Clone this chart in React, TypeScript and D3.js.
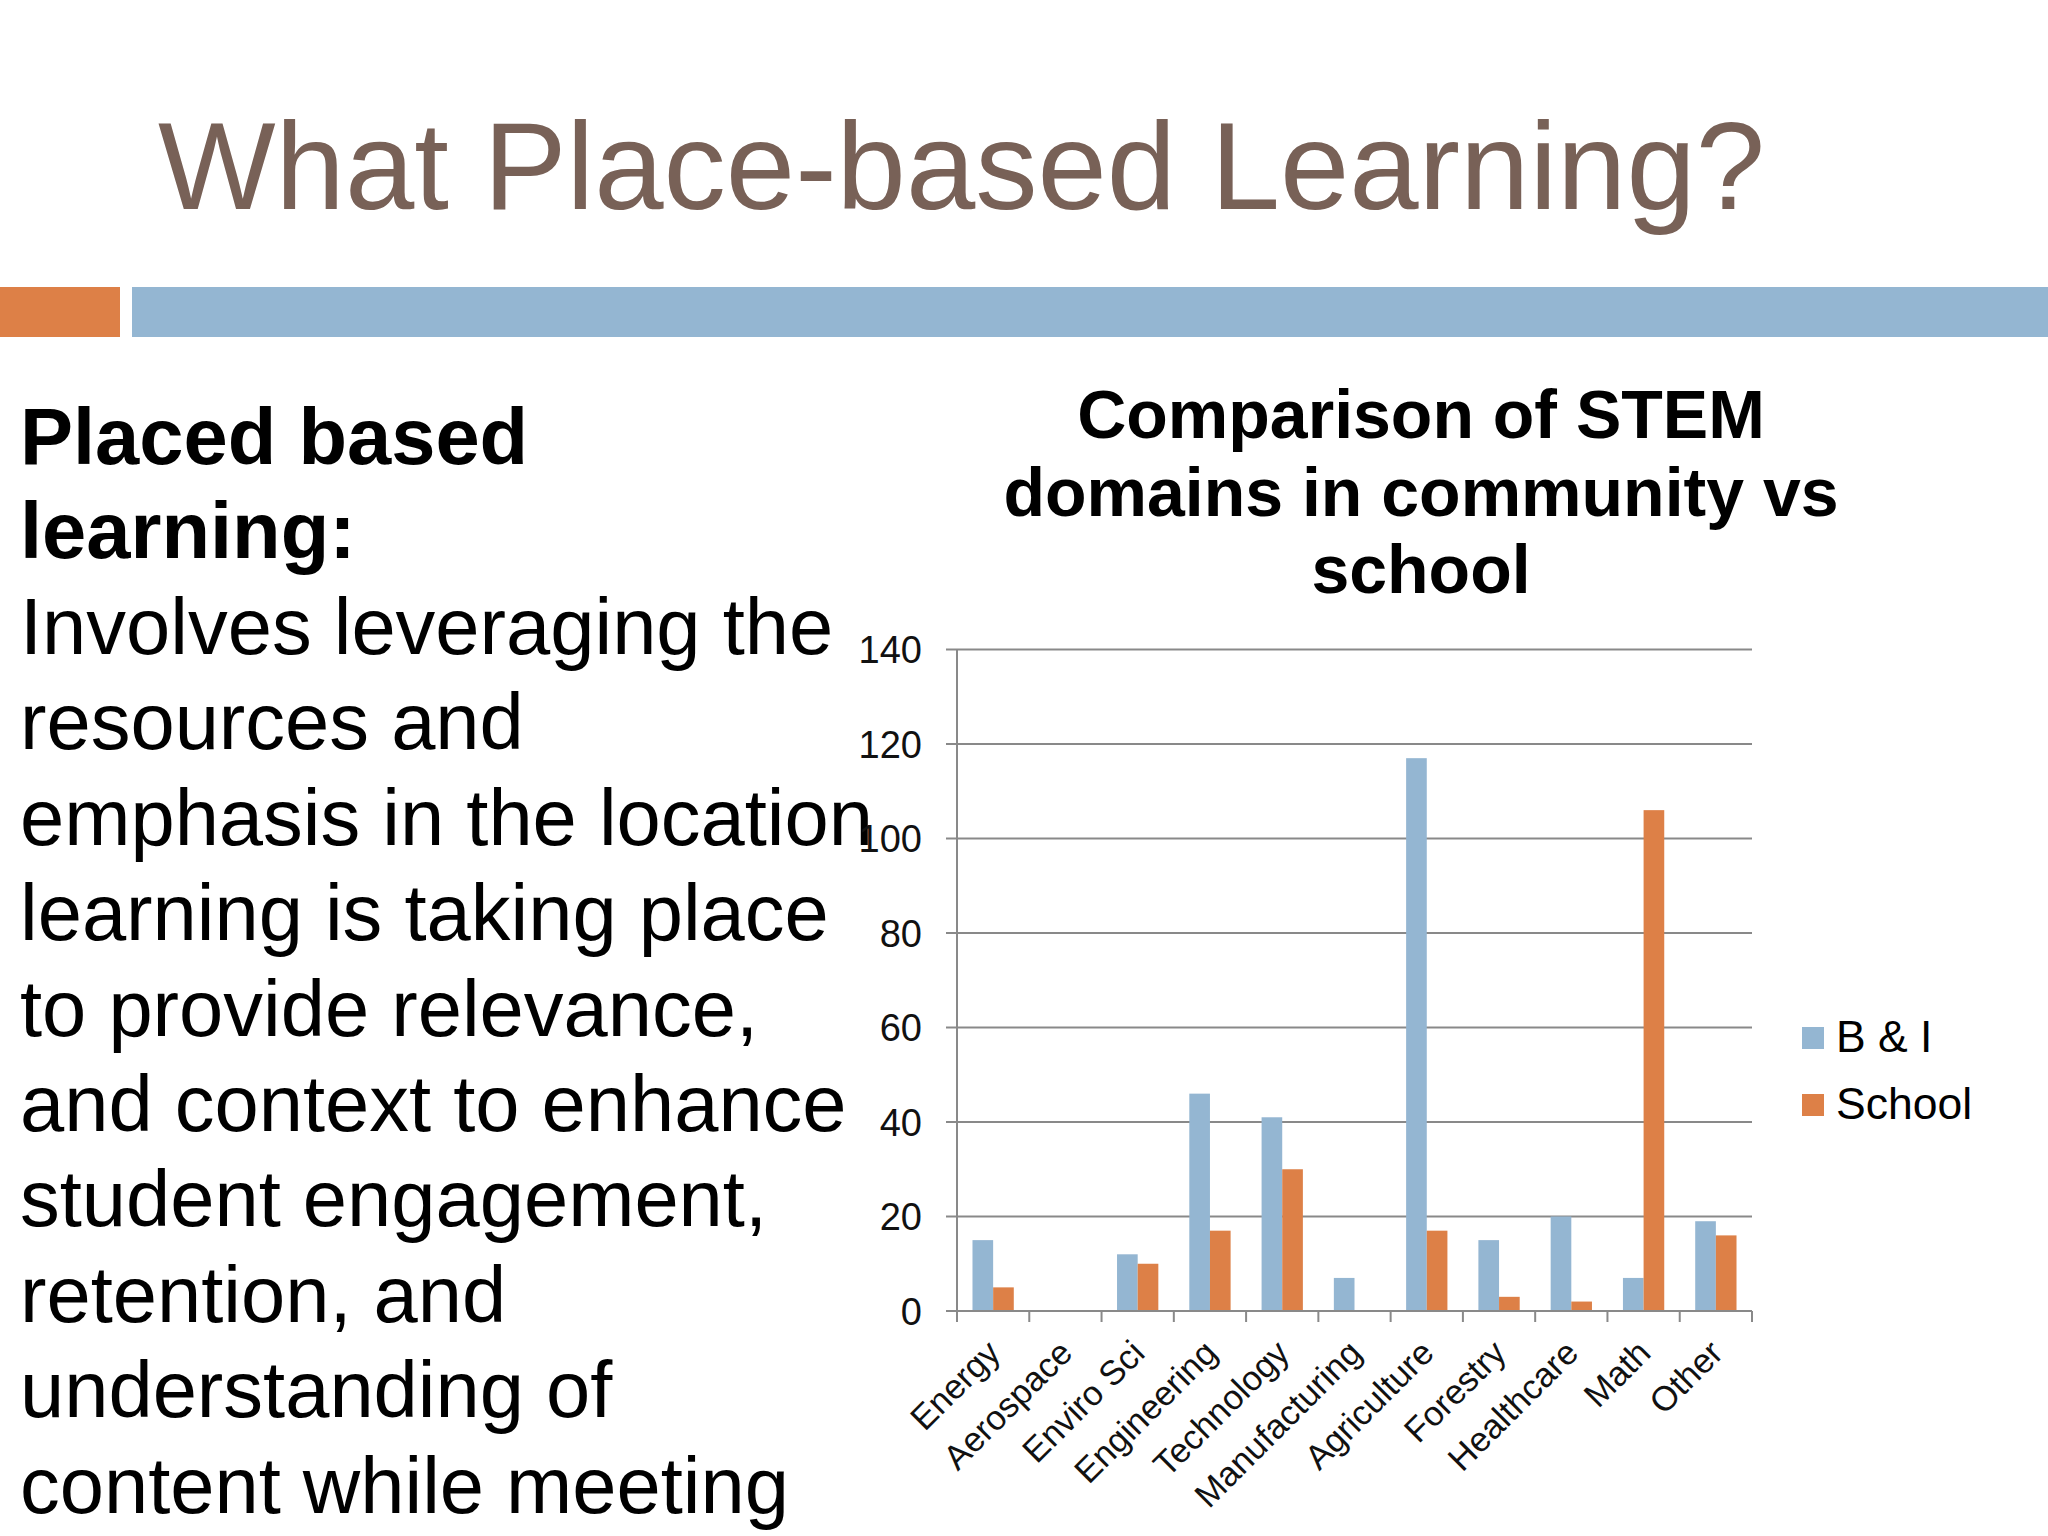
import React from "react";
import * as d3 from "d3";

const categories = ["Energy", "Aerospace", "Enviro Sci", "Engineering", "Technology", "Manufacturing", "Agriculture", "Forestry", "Healthcare", "Math", "Other"];
const seriesNames = ["B & I", "School"];
const biValues = [15, 0, 12, 46, 41, 7, 117, 15, 20, 7, 19];
const schoolValues = [5, 0, 10, 17, 30, 0, 17, 3, 2, 106, 16];
const yTicks = [0, 20, 40, 60, 80, 100, 120, 140];
const seriesColors = ["#94b6d2", "#dd8047"];

const pageTitle = "What Place-based Learning?";
const chartTitleLines = ["Comparison of STEM", "domains in community vs", "school"];
const boldLines = ["Placed based", "learning:"];
const bodyLines = [
  "Involves leveraging the",
  "resources and",
  "emphasis in the location",
  "learning is taking place",
  "to provide relevance,",
  "and context to enhance",
  "student engagement,",
  "retention, and",
  "understanding of",
  "content while meeting",
];

const FONT = "'Liberation Sans', Arial, Helvetica, sans-serif";

export default function App() {
  const W = 2048;
  const H = 1536;
  const left = 957;
  const right = 1752;
  const top = 649.5;
  const bottom = 1311;

  const x0 = d3.scaleBand<string>().domain(categories).range([left, right]).padding(0);
  const x1 = d3
    .scaleBand<string>()
    .domain(seriesNames)
    .range([0, x0.bandwidth()])
    .paddingInner(0)
    .paddingOuter(0.75);
  const y = d3.scaleLinear().domain([0, 140]).range([bottom, top]);

  const values = [biValues, schoolValues];
  const gridColor = "#898989";

  return (
    <svg
      width={W}
      height={H}
      viewBox={`0 0 ${W} ${H}`}
      style={{ position: "absolute", left: 0, top: 0, background: "#ffffff" }}
    >
      <rect x={0} y={0} width={W} height={H} fill="#ffffff" />
      {/* Page title */}
      <text
        x={158}
        y={209}
        fontFamily={FONT}
        fontSize={124}
        fill="#786157"
        textLength={1607}
        lengthAdjust="spacingAndGlyphs"
      >
        {pageTitle}
      </text>
      {/* Decorative bars */}
      <rect x={0} y={287} width={120} height={50} fill="#dd8047" />
      <rect x={132} y={287} width={W - 132} height={50} fill="#94b6d2" />

      {/* Left text */}
      {boldLines.map((t, i) => (
        <text key={"b" + i} x={20} y={464 + i * 94} fontFamily={FONT} fontSize={79.5} fontWeight="bold" fill="#000">
          {t}
        </text>
      ))}
      {bodyLines.map((t, i) => (
        <text key={"r" + i} x={20} y={654 + i * 95.4} fontFamily={FONT} fontSize={79.5} fill="#000">
          {t}
        </text>
      ))}

      {/* Chart title */}
      {chartTitleLines.map((t, i) => (
        <text
          key={"ct" + i}
          x={1421}
          y={438 + i * 77.5}
          textAnchor="middle"
          fontFamily={FONT}
          fontSize={68}
          fontWeight="bold"
          fill="#000"
        >
          {t}
        </text>
      ))}

      {/* Gridlines and y ticks */}
      {yTicks.map((v) => (
        <g key={"g" + v}>
          <line x1={left - 11} x2={right} y1={y(v)} y2={y(v)} stroke={gridColor} strokeWidth={2} />
          <text
            x={922}
            y={y(v)}
            dy="0.36em"
            textAnchor="end"
            fontFamily={FONT}
            fontSize={38}
            fill="#111"
          >
            {v}
          </text>
        </g>
      ))}

      {/* Bars */}
      {categories.map((c, ci) => (
        <g key={"c" + c} transform={`translate(${x0(c)},0)`}>
          {seriesNames.map((s, si) => {
            const v = values[si][ci];
            if (v <= 0) return null;
            return (
              <rect
                key={s}
                x={x1(s)}
                y={y(v)}
                width={x1.bandwidth()}
                height={y(0) - y(v)}
                fill={seriesColors[si]}
              />
            );
          })}
        </g>
      ))}

      {/* Axes */}
      <line x1={left} x2={left} y1={top} y2={bottom} stroke={gridColor} strokeWidth={2} />
      <line x1={left - 11} x2={right} y1={bottom} y2={bottom} stroke={gridColor} strokeWidth={2} />
      {d3.range(categories.length + 1).map((i) => {
        const xx = left + i * x0.step();
        return <line key={"t" + i} x1={xx} x2={xx} y1={bottom} y2={bottom + 11} stroke={gridColor} strokeWidth={2} />;
      })}

      {/* X labels */}
      {categories.map((c) => {
        const cx = (x0(c) as number) + x0.bandwidth() / 2;
        return (
          <text
            key={"xl" + c}
            transform={`translate(${cx + 9},1355) rotate(-45)`}
            textAnchor="end"
            fontFamily={FONT}
            fontSize={34.5}
            fill="#111"
          >
            {c}
          </text>
        );
      })}

      {/* Legend */}
      {seriesNames.map((s, i) => (
        <g key={"lg" + s}>
          <rect x={1802} y={1027 + i * 67} width={22} height={22} fill={seriesColors[i]} />
          <text x={1836} y={1052 + i * 67} fontFamily={FONT} fontSize={44.5} fill="#000">
            {s}
          </text>
        </g>
      ))}
    </svg>
  );
}
